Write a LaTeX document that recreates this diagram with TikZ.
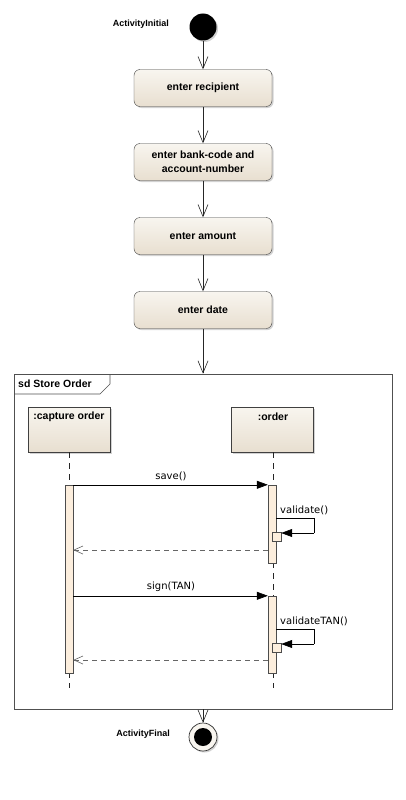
\documentclass[tikz,border=0pt]{standalone}
\usepackage{fontspec}
\setmainfont{Liberation Sans}
\newfontfamily\msgfont{DejaVu Sans}
\usetikzlibrary{arrows.meta,shadows,calc}
\definecolor{actTop}{HTML}{F8F5EF}
\definecolor{actBot}{HTML}{E8DFD0}
\definecolor{barfill}{HTML}{FCEEDD}
\definecolor{framecol}{HTML}{505050}
\begin{document}
\begin{tikzpicture}[x=1pt,y=-1pt,
  shad/.style={drop shadow={shadow xshift=1.5pt,shadow yshift=-1.5pt,opacity=0.35}},
  act/.style={draw=black!75, rounded corners=6pt, minimum width=138pt, minimum height=37pt,
    top color=actTop, bottom color=actBot, align=center, inner sep=0pt,
    font=\bfseries\fontsize{10.5}{14}\selectfont, shad},
  lbox/.style={draw=black!75, minimum width=82pt, minimum height=45pt,
    top color=actTop, bottom color=actBot, inner sep=0pt, shad},
  lbltext/.style={font=\bfseries\fontsize{10.5}{13}\selectfont, inner sep=0pt},
  small/.style={font=\bfseries\fontsize{9}{11}\selectfont, inner sep=0pt},
  msgtext/.style={font=\msgfont\fontsize{10}{12}\selectfont, inner sep=0pt},
  flow/.style={draw=black!85, line width=0.6pt, -{Straight Barb[length=12pt,width=10pt]}},
  msg/.style={draw=black, line width=0.6pt, -{Triangle[length=11pt,width=8pt]}},
  ret/.style={draw=black!60, line width=0.6pt, dash pattern=on 5pt off 4pt,
    -{Straight Barb[length=9pt,width=8pt]}},
  lifeline/.style={draw=black!85, line width=0.6pt, dash pattern=on 6pt off 5pt},
  bar/.style={draw=black!70, fill=barfill, minimum width=8pt, inner sep=0pt},
  selfbox/.style={draw=black!70, fill=barfill, minimum width=9pt, minimum height=9pt, inner sep=0pt}
]
\useasboundingbox[fill=white] (0,0) rectangle (406,800);

% activity part
\node[circle, fill=black, minimum size=27pt, inner sep=0pt, shad] (init) at (203,27) {};
\node[small, anchor=east] (initlbl) at (169,24) {ActivityInitial};
\node[act] (a1) at (203,88) {enter recipient};
\node[act] (a2) at (203,162) {enter bank-code and\\account-number};
\node[act] (a3) at (203,236) {enter amount};
\node[act] (a4) at (203,310) {enter date};

% frame
\node[draw=framecol, line width=0.8pt, minimum width=378pt, minimum height=335pt, inner sep=0pt] (frame) at (203,541.5) {};
\coordinate (t1) at (14,394);
\coordinate (t2) at (100,394);
\coordinate (t3) at (110,384);
\coordinate (t4) at (110,374);
\draw[draw=framecol, line width=0.6pt] (t1) -- (t2) -- (t3) -- (t4);
\node[lbltext, anchor=west] (sdlbl) at (18,384) {sd Store Order};

% lifeline heads
\node[lbox] (ll1) at (69,429.5) {};
\node[lbox] (ll2) at (272,429.5) {};
\node[lbltext] (ll1t) at (69,417) {:capture order};
\node[lbltext] (ll2t) at (273,417) {:order};

% lifelines
\coordinate (e1) at (69,688);
\coordinate (e2) at (273,688);
\draw[lifeline] (ll1.south -| e1) -- (e1);
\draw[lifeline] (ll2.south -| e2) -- (e2);

% activation bars
\node[bar, minimum height=188pt] (bl) at (69,579) {};
\node[bar, minimum height=78pt] (r1) at (272,524) {};
\node[bar, minimum height=77pt] (r2) at (272,634.5) {};

% save()
\draw[msg] (bl.north east) -- (r1.north west);
\node[msgtext, anchor=south] (savelbl) at (171,481) {save()};

% validate()
\node[selfbox] (s1) at (276.5,536.5) {};
\coordinate (v1) at (314,518);
\coordinate (v2) at (314,533);
\draw[draw=black, line width=0.6pt] (r1.east |- v1) -- (v1) -- (v2);
\draw[msg] (v2) -- (s1.east |- v2);
\node[msgtext, anchor=south west] (vallbl) at (280,515) {validate()};

% return 1
\coordinate (rt1) at (0,550);
\draw[ret] (r1.west |- rt1) -- (bl.east |- rt1);

% sign(TAN)
\draw[msg] (bl.east |- r2.north) -- (r2.north west);
\node[msgtext, anchor=south] (signlbl) at (171,592) {sign(TAN)};

% validateTAN()
\node[selfbox] (s2) at (276.5,647.5) {};
\coordinate (w1) at (314,629);
\coordinate (w2) at (314,644);
\draw[draw=black, line width=0.6pt] (r2.east |- w1) -- (w1) -- (w2);
\draw[msg] (w2) -- (s2.east |- w2);
\node[msgtext, anchor=south west] (vtlbl) at (280,626) {validateTAN()};

% return 2
\coordinate (rt2) at (0,660);
\draw[ret] (r2.west |- rt2) -- (bl.east |- rt2);

% final
\node[circle, draw=black!80, line width=0.7pt, fill=actTop, minimum size=28pt, inner sep=0pt, shad] (fin) at (203,737) {};
\node[circle, fill=black, minimum size=18pt, inner sep=0pt] (fininner) at (fin.center) {};
\node[small, anchor=east] (finlbl) at (170,734) {ActivityFinal};

% flow arrows
\draw[flow] (init) -- (a1);
\draw[flow] (a1) -- (a2);
\draw[flow] (a2) -- (a3);
\draw[flow] (a3) -- (a4);
\draw[flow] (a4) -- (frame.north);
\draw[flow] (frame.south) -- (fin);
\end{tikzpicture}
\end{document}
